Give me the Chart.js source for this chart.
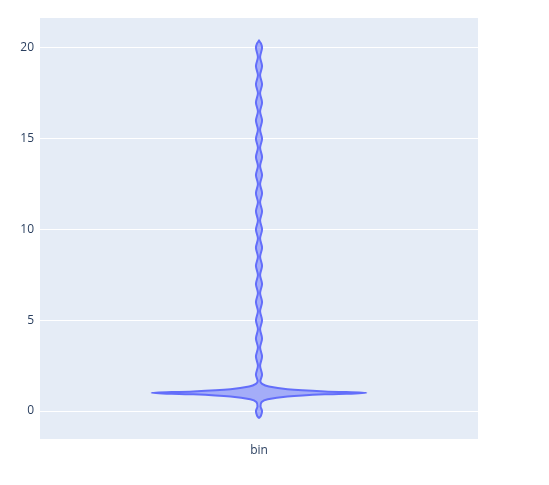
<!DOCTYPE html>
<html>
<head>
<meta charset="utf-8">
<script src="https://cdn.jsdelivr.net/npm/chart.js@4"></script>
<style>html,body{margin:0;padding:0;background:#fff}#wrap{width:549px;height:485px}</style>
</head>
<body>
<div id="wrap"><canvas id="plot"></canvas></div>
<script>
// violin profile: value along y, half-width of density (kde units)
const violinY = [-0.4, -0.25, 0, 0.25, 0.5, 0.65, 0.8, 0.92, 1.0, 1.08, 1.2, 1.35, 1.5, 1.65,
  2, 2.5, 3, 3.5, 4, 4.5, 5, 5.5, 6, 6.5, 7, 7.5, 8, 8.5, 9, 9.5, 10, 10.5, 11, 11.5,
  12, 12.5, 13, 13.5, 14, 14.5, 15, 15.5, 16, 16.5, 17, 17.5, 18, 18.5, 19, 19.5, 20, 20.25, 20.4];
const violinHalf = [0, 0.009, 0.014, 0.007, 0.012, 0.04, 0.13, 0.3, 0.49, 0.3, 0.13, 0.045, 0.014, 0.006,
  0.014, 0.005, 0.014, 0.005, 0.014, 0.005, 0.014, 0.005, 0.014, 0.005, 0.014, 0.005, 0.014, 0.005, 0.014, 0.005, 0.014, 0.005, 0.014, 0.005,
  0.014, 0.005, 0.014, 0.005, 0.014, 0.005, 0.014, 0.005, 0.014, 0.005, 0.014, 0.005, 0.014, 0.005, 0.014, 0.005, 0.014, 0.009, 0];
const categories = ['bin'];
const yTicks = [0, 5, 10, 15, 20];

const shape = [];
for (let i = 0; i < violinY.length; i++) shape.push({ x: violinHalf[i], y: violinY[i] });
for (let i = violinY.length - 1; i >= 0; i--) shape.push({ x: -violinHalf[i], y: violinY[i] });

const bgPlugin = {
  id: 'bg',
  beforeDraw(chart) {
    const a = chart.chartArea, ctx = chart.ctx;
    ctx.save();
    ctx.fillStyle = '#e5ecf6';
    ctx.fillRect(a.left, a.top, a.right - a.left, a.bottom - a.top);
    ctx.restore();
  }
};

new Chart(document.getElementById('plot'), {
  type: 'scatter',
  data: {
    datasets: [{
      label: categories[0],
      data: shape,
      showLine: true,
      fill: 'shape',
      tension: 0.3,
      pointRadius: 0,
      borderColor: '#636efa',
      borderWidth: 2,
      backgroundColor: 'rgba(99,110,250,0.5)'
    }]
  },
  options: {
    responsive: true,
    maintainAspectRatio: false,
    animation: false,
    layout: { padding: { left: 0, top: 18, right: 71, bottom: 0 } },
    plugins: { legend: { display: false }, tooltip: { enabled: false } },
    scales: {
      x: {
        type: 'linear', min: -1, max: 1,
        afterBuildTicks: s => { s.ticks = [{ value: 0 }]; },
        afterFit: s => { s.height = 46; },
        ticks: { callback: () => categories[0], color: '#2a3f5f', font: { family: 'Open Sans', size: 12 }, padding: 4 },
        grid: { display: false, drawTicks: false },
        border: { display: false }
      },
      y: {
        min: -1.54, max: 21.65,
        afterBuildTicks: s => { s.ticks = yTicks.map(v => ({ value: v })); },
        afterFit: s => { s.width = 40; },
        ticks: { color: '#2a3f5f', font: { family: 'Open Sans', size: 12 }, padding: 6 },
        grid: { color: '#ffffff', lineWidth: 1, drawTicks: false },
        border: { display: false }
      }
    }
  },
  plugins: [bgPlugin]
});
</script>
</body>
</html>
